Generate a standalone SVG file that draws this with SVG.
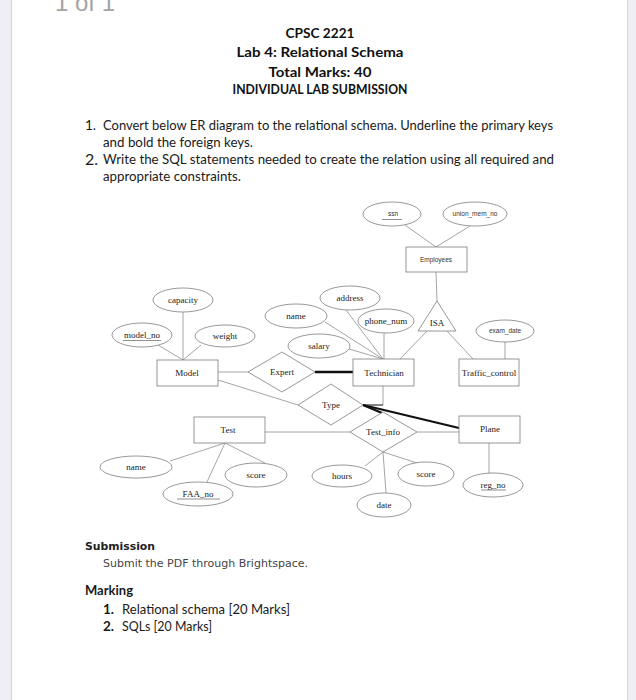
<svg xmlns="http://www.w3.org/2000/svg" width="636" height="700" viewBox="0 0 636 700">
<style>
.ell{fill:#fff;stroke:#7e7e7e;stroke-width:0.8}
.box{fill:#fff;stroke:#7e7e7e;stroke-width:0.8}
.ln{stroke:#8e8e8e;stroke-width:0.8;fill:none}
.thick{stroke:#111;stroke-width:2.3;fill:none}
.ul{stroke:#444;stroke-width:0.6}
.er{font-family:"Liberation Serif",serif;fill:#222;text-anchor:middle;font-size:9px}
.ers{font-family:"Liberation Sans",sans-serif;fill:#333;text-anchor:middle;font-size:6.5px}
.hd{font-family:Lato,"Liberation Sans",sans-serif;font-weight:bold;fill:#111;text-anchor:middle}
.body{font-family:Lato,"Liberation Sans",sans-serif;fill:#1a1a1a;font-size:13.5px}
.vd{font-family:"DejaVu Sans",sans-serif;font-size:10.5px}
</style>
<rect x="0" y="0" width="636" height="700" fill="#efeef4"/>
<rect x="12" y="0" width="615" height="700" fill="#fff"/>
<line x1="11.5" y1="0" x2="11.5" y2="700" stroke="#d4d4da" stroke-width="1"/>
<line x1="627.5" y1="0" x2="627.5" y2="700" stroke="#d4d4da" stroke-width="1"/>
<text x="55" y="11" font-family="Liberation Sans,sans-serif" font-size="24" fill="#a3a3a3">1 of 1</text>

<g id="header">
<text class="hd" x="320" y="38" font-size="14" textLength="69" lengthAdjust="spacingAndGlyphs">CPSC 2221</text>
<text class="hd" x="320" y="57" font-size="14" textLength="167" lengthAdjust="spacingAndGlyphs">Lab 4: Relational Schema</text>
<text class="hd" x="320" y="77" font-size="14" textLength="103" lengthAdjust="spacingAndGlyphs">Total Marks: 40</text>
<text class="hd" x="320" y="94" font-size="12.5" textLength="175" lengthAdjust="spacingAndGlyphs">INDIVIDUAL LAB SUBMISSION</text>
</g>

<g id="instructions" class="body">
<text x="85" y="130">1.</text>
<text x="103" y="130" textLength="450" lengthAdjust="spacingAndGlyphs">Convert below ER diagram to the relational schema. Underline the primary keys</text>
<text x="103" y="147" textLength="150" lengthAdjust="spacingAndGlyphs">and bold the foreign keys.</text>
<text x="85" y="165" font-size="16">2.</text>
<text x="103" y="164" textLength="451" lengthAdjust="spacingAndGlyphs">Write the SQL statements needed to create the relation using all required and</text>
<text x="103" y="181" textLength="138" lengthAdjust="spacingAndGlyphs">appropriate constraints.</text>
</g>

<g id="connectors">
<line class="ln" x1="405" y1="225" x2="436" y2="247"/>
<line class="ln" x1="470" y1="226" x2="436" y2="247"/>
<line class="ln" x1="436" y1="272" x2="437" y2="301"/>
<line class="ln" x1="346" y1="310" x2="383" y2="359"/>
<line class="ln" x1="325" y1="322" x2="383" y2="359"/>
<line class="ln" x1="384" y1="333" x2="384" y2="359"/>
<line class="ln" x1="349" y1="349" x2="383" y2="359"/>
<line class="ln" x1="427" y1="331" x2="400" y2="359"/>
<line class="ln" x1="447" y1="331" x2="473" y2="359"/>
<line class="ln" x1="505" y1="342" x2="505" y2="359"/>
<line class="ln" x1="183" y1="312" x2="183" y2="360"/>
<line class="ln" x1="158" y1="345" x2="183" y2="360"/>
<line class="ln" x1="201" y1="345" x2="183" y2="360"/>
<line class="ln" x1="218" y1="372" x2="248" y2="372"/>
<line class="thick" x1="315" y1="372" x2="353" y2="372"/>
<line class="ln" x1="218" y1="380" x2="298" y2="405"/>
<line class="ln" x1="383" y1="386" x2="383" y2="405"/>
<line x1="363" y1="405" x2="383" y2="405" stroke="#333" stroke-width="1.2"/>
<line class="thick" x1="363" y1="405" x2="459" y2="428"/>
<line class="thick" x1="363" y1="405" x2="382" y2="413"/>
<line class="ln" x1="265" y1="432" x2="350" y2="432"/>
<line class="ln" x1="417" y1="432" x2="459" y2="432"/>
<line class="ln" x1="170" y1="461" x2="225" y2="443"/>
<line class="ln" x1="207" y1="482" x2="225" y2="443"/>
<line class="ln" x1="265" y1="463" x2="225" y2="443"/>
<line class="ln" x1="365" y1="466" x2="383" y2="452"/>
<line class="ln" x1="417" y1="463" x2="383" y2="452"/>
<line class="ln" x1="386" y1="493" x2="383" y2="452"/>
<line class="ln" x1="489" y1="443" x2="489" y2="473"/>
</g>

<g id="ssn"><ellipse class="ell" cx="392" cy="214" rx="29" ry="12"/><text class="ers" x="393" y="216">ssn</text><line class="ul" x1="382" y1="219.5" x2="402" y2="219.5"/></g>
<g id="union_mem_no"><ellipse class="ell" cx="475" cy="214" rx="32" ry="12"/><text class="ers" x="475" y="216">union_mem_no</text></g>
<g id="employees"><rect class="box" x="406" y="247" width="61" height="25"/><text class="ers" x="436" y="262" font-size="7">Employees</text></g>
<g id="address"><ellipse class="ell" cx="350" cy="298" rx="30" ry="12"/><text class="er" x="350" y="301">address</text></g>
<g id="tech_name"><ellipse class="ell" cx="296" cy="316" rx="31" ry="12"/><text class="er" x="296" y="319" font-size="8.5">name</text></g>
<g id="phone_num"><ellipse class="ell" cx="386" cy="321" rx="28" ry="12"/><text class="er" x="386" y="324">phone_num</text></g>
<g id="salary"><ellipse class="ell" cx="319" cy="346" rx="31" ry="12"/><text class="er" x="319" y="349">salary</text></g>
<g id="isa"><polygon class="box" points="437,301 418,331 456,331"/><text class="er" x="437" y="326">ISA</text></g>
<g id="technician"><rect class="box" x="353" y="359" width="61" height="27"/><text class="er" x="384" y="376">Technician</text></g>
<g id="traffic_control"><rect class="box" x="459" y="359" width="60" height="27"/><text class="er" x="489" y="376" font-size="8.7">Traffic_control</text></g>
<g id="exam_date"><ellipse class="ell" cx="505" cy="331" rx="29" ry="11"/><text class="ers" x="505" y="333">exam_date</text></g>
<g id="capacity"><ellipse class="ell" cx="183" cy="300" rx="30" ry="12"/><text class="er" x="183" y="303" font-size="8.5">capacity</text></g>
<g id="model_no"><ellipse class="ell" cx="142" cy="335" rx="30" ry="12"/><text class="er" x="142" y="338" font-size="8.5">model_no</text><line class="ul" x1="123" y1="340.5" x2="161" y2="340.5"/></g>
<g id="weight"><ellipse class="ell" cx="225" cy="336" rx="30" ry="11"/><text class="er" x="225" y="339" font-size="8.5">weight</text></g>
<g id="model"><rect class="box" x="157" y="360" width="61" height="26"/><text class="er" x="187" y="376" font-size="9.5">Model</text></g>
<g id="expert"><polygon class="box" points="248,372 282,352 315,372 282,392"/><text class="er" x="282" y="375" font-size="9.5">Expert</text></g>
<g id="type"><polygon class="box" points="298,405 331,384 363,405 331,425"/><text class="er" x="331" y="408">Type</text></g>
<g id="test"><rect class="box" x="194" y="417" width="71" height="26"/><text class="er" x="228" y="433" font-size="10.5">Test</text></g>
<g id="test_info"><polygon class="box" points="350,432 383,412 417,432 383,452"/><text class="er" x="383" y="435">Test_info</text></g>
<g id="plane"><rect class="box" x="459" y="416" width="61" height="27"/><text class="er" x="490" y="432" font-size="8.5">Plane</text></g>
<g id="test_name"><ellipse class="ell" cx="136" cy="467" rx="36" ry="11"/><text class="er" x="136" y="470" font-size="9.5">name</text></g>
<g id="faa_no"><ellipse class="ell" cx="198" cy="494" rx="35" ry="12"/><text class="er" x="198" y="497" font-size="10.5">FAA_no</text><line class="ul" x1="177" y1="499" x2="220" y2="499"/></g>
<g id="test_score"><ellipse class="ell" cx="256" cy="475" rx="31" ry="12"/><text class="er" x="256" y="478" font-size="9.5">score</text></g>
<g id="hours"><ellipse class="ell" cx="342" cy="476" rx="30" ry="11"/><text class="er" x="342" y="479" font-size="8.5">hours</text></g>
<g id="info_score"><ellipse class="ell" cx="426" cy="474" rx="28" ry="12"/><text class="er" x="426" y="477" font-size="8.5">score</text></g>
<g id="date"><ellipse class="ell" cx="384" cy="505" rx="27" ry="12"/><text class="er" x="384" y="508" font-size="8.5">date</text></g>
<g id="reg_no"><ellipse class="ell" cx="493" cy="485" rx="30" ry="12"/><text class="er" x="493" y="488" font-size="8.5">reg_no</text><line class="ul" x1="481" y1="490" x2="506" y2="490"/></g>

<g id="submission">
<text class="vd" x="85" y="550" font-weight="bold" fill="#222" textLength="70" lengthAdjust="spacingAndGlyphs">Submission</text>
<text class="vd" x="103" y="567" fill="#444" textLength="205" lengthAdjust="spacingAndGlyphs">Submit the PDF through Brightspace.</text>
</g>
<g id="marking" class="body">
<text x="85" y="595" font-weight="bold" font-size="14" textLength="48" lengthAdjust="spacingAndGlyphs">Marking</text>
<text x="103" y="614" font-weight="bold">1.</text>
<text x="122" y="614" textLength="168" lengthAdjust="spacingAndGlyphs">Relational schema [20 Marks]</text>
<text x="103" y="631" font-weight="bold">2.</text>
<text x="122" y="631" textLength="90" lengthAdjust="spacingAndGlyphs">SQLs [20 Marks]</text>
</g>
</svg>
